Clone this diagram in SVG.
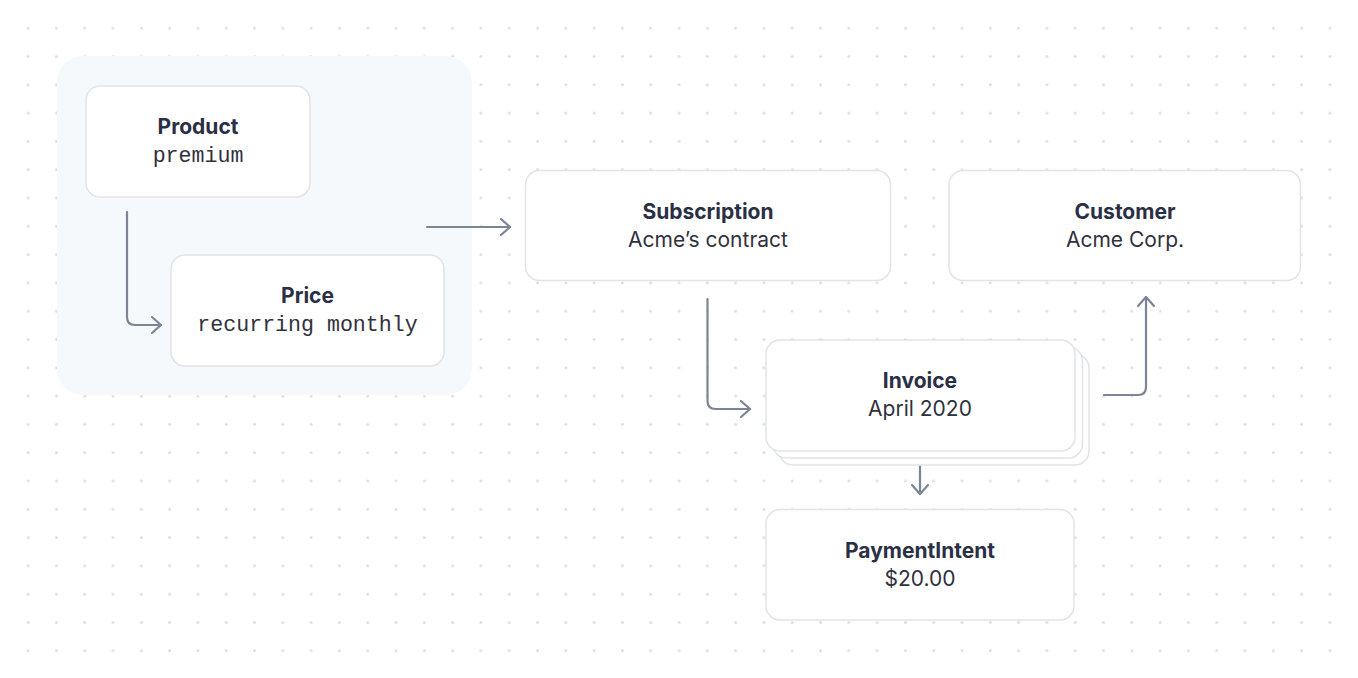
<svg xmlns="http://www.w3.org/2000/svg" width="1358" height="678" viewBox="0 0 1358 678">
<style>
.box{fill:#ffffff;stroke:#e1e4e9;stroke-width:1.5}
.t{font-family:Inter,"Noto Sans",sans-serif;font-weight:700;font-size:21px;fill:#2a2f45;text-anchor:middle}
.s{font-family:Inter,"Noto Sans",sans-serif;font-weight:400;font-size:21px;fill:#30313d;text-anchor:middle}
.m{font-family:"Liberation Mono","DejaVu Sans Mono",monospace;font-size:21.6px;fill:#30313d;text-anchor:middle}
.c{fill:none;stroke:#7c8596;stroke-width:2.2;stroke-linecap:round;stroke-linejoin:round}
</style>
<defs>
<pattern id="dots" patternUnits="userSpaceOnUse" x="14" y="14" width="28.3" height="28.3">
<circle cx="14.15" cy="14.15" r="1.5" fill="#dcdfe4"/>
</pattern>
<marker id="arr" viewBox="0 0 13 18" refX="11" refY="9" markerWidth="13" markerHeight="18" markerUnits="userSpaceOnUse" orient="auto">
<path d="M2,1 L11,9 L2,17" fill="none" stroke="#7c8596" stroke-width="2.2" stroke-linecap="round" stroke-linejoin="round"/>
</marker>
</defs>
<rect width="1358" height="678" fill="#ffffff"/>
<rect x="14" y="14" width="1330" height="650" fill="url(#dots)"/>
<rect id="panel" x="57" y="56" width="415" height="339" rx="26" fill="#f6f9fc"/>
<g id="connectors">
<path class="c" d="M127,212 V317 Q127,325 135,325 H161" marker-end="url(#arr)"/>
<path class="c" d="M427,227 H510" marker-end="url(#arr)"/>
<path class="c" d="M707.5,299 V401 Q707.5,409 715.5,409 H750" marker-end="url(#arr)"/>
<path class="c" d="M1104,395 H1138 Q1146,395 1146,387 V297" marker-end="url(#arr)"/>
<path class="c" d="M920,466 V494" marker-end="url(#arr)"/>
</g>
<g id="product">
<rect class="box" x="86" y="86" width="224" height="111" rx="14"/>
<text class="t" x="198" y="134">Product</text>
<text class="m" x="198" y="162">premium</text>
</g>
<g id="price">
<rect class="box" x="171" y="255" width="273" height="111" rx="14"/>
<text class="t" x="307.5" y="303">Price</text>
<text class="m" x="307.5" y="331">recurring monthly</text>
</g>
<g id="subscription">
<rect class="box" x="525.5" y="170.5" width="365" height="110" rx="14"/>
<text class="t" x="708" y="219">Subscription</text>
<text class="s" x="708" y="247">Acme’s contract</text>
</g>
<g id="customer">
<rect class="box" x="949" y="170.5" width="351.5" height="110" rx="14"/>
<text class="t" x="1125" y="219">Customer</text>
<text class="s" x="1125" y="247">Acme Corp.</text>
</g>
<g id="invoice">
<rect class="box" x="779" y="354" width="310" height="111" rx="14"/>
<rect class="box" x="772.5" y="347" width="310" height="111" rx="14"/>
<rect class="box" x="766" y="340" width="309" height="111" rx="14"/>
<text class="t" x="920" y="388">Invoice</text>
<text class="s" x="920" y="416">April 2020</text>
</g>
<g id="paymentintent">
<rect class="box" x="766" y="509.5" width="308" height="110.5" rx="14"/>
<text class="t" x="920" y="558">PaymentIntent</text>
<text class="s" x="920" y="586">$20.00</text>
</g>
</svg>
